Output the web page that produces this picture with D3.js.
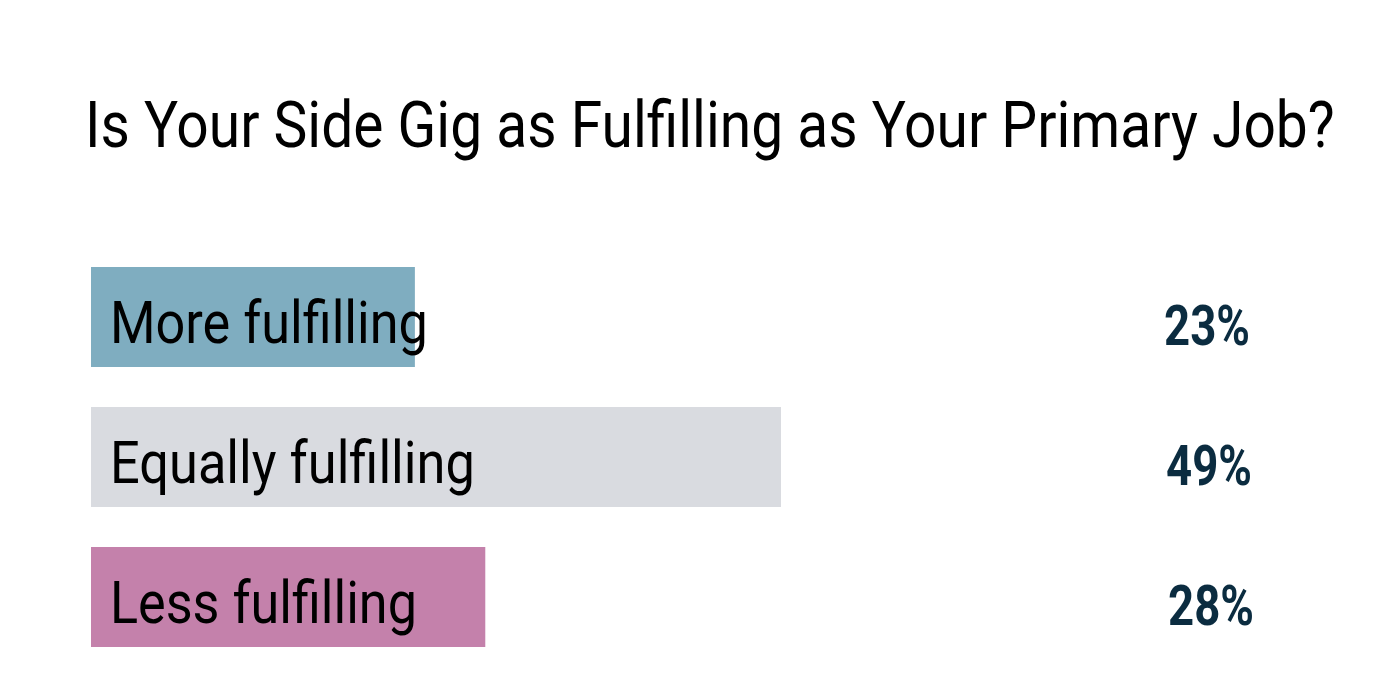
<!DOCTYPE html>
<html><head><meta charset="utf-8">
<script src="https://cdn.jsdelivr.net/npm/d3@7"></script>
<style>html,body{margin:0;padding:0;background:#fff;}</style>
</head><body>
<svg id="chart" width="1380" height="700"></svg>
<script>
const title = "Is Your Side Gig as Fulfilling as Your Primary Job?";
const categories = ["More fulfilling", "Equally fulfilling", "Less fulfilling"];
const values = [23, 49, 28];
const colors = ["#7fadc0", "#d9dbe0", "#c481ab"];

const svg = d3.select("#chart");
const W = 1380, H = 700;
svg.append("rect").attr("width", W).attr("height", H).attr("fill", "#fff");

const font = "Roboto, 'Liberation Sans', sans-serif";

// draw text condensed horizontally (to mimic a condensed face) to a target width
function condensedText(parent, str, x, y, size, weight, fill, targetW, anchor) {
  const g = parent.append("g");
  const t = g.append("text")
    .attr("x", 0).attr("y", 0)
    .attr("font-family", font).attr("font-size", size).attr("font-weight", weight)
    .attr("fill", fill).text(str);
  const len = t.node().getComputedTextLength();
  const sx = targetW / len;
  let tx = x;
  if (anchor === "middle") tx = x - targetW / 2;
  g.attr("transform", `translate(${tx},${y}) scale(${sx},1)`);
  return g;
}

condensedText(svg, title, 85, 147, 65, "normal", "#000", 1250);

const x = d3.scaleLinear().domain([0, 49]).range([91, 781]);
const y = d3.scaleBand().domain(categories).range([267, 647]).paddingInner(2 / 7).paddingOuter(0);

const g = svg.append("g");
g.selectAll("rect.bar").data(categories).join("rect")
  .attr("class", "bar")
  .attr("x", x(0))
  .attr("y", d => y(d))
  .attr("width", (d, i) => x(values[i]) - x(0))
  .attr("height", y.bandwidth())
  .attr("fill", (d, i) => colors[i]);

const labelWidths = [318, 365, 307];
categories.forEach((c, i) => {
  condensedText(g, c, 110, y(c) + y.bandwidth() / 2 + 26, 59, "normal", "#000", labelWidths[i]);
  condensedText(g, values[i] + "%", 1207 + i * 2, y(c) + y.bandwidth() / 2 + 28, 56, "bold", "#0b2c40", 86, "middle");
});
</script>
</body></html>
